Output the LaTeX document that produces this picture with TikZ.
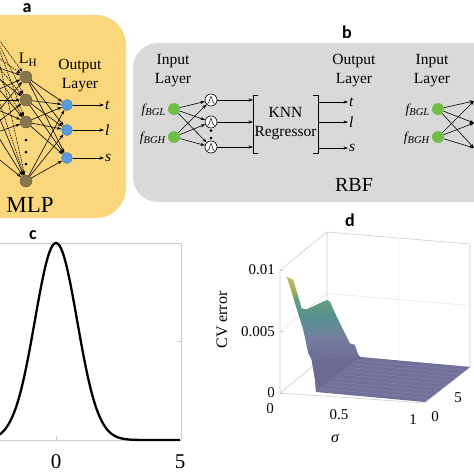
\documentclass[tikz,border=0pt]{standalone}
\usepackage{fontspec}
\setmainfont{Liberation Serif}
\newfontfamily\labfont{Carlito}
\usetikzlibrary{arrows.meta,calc}
\definecolor{yellowbg}{RGB}{250,215,125}
\definecolor{graybg}{RGB}{217,217,217}
\definecolor{brownnode}{RGB}{135,118,78}
\definecolor{bluenode}{RGB}{85,155,225}
\definecolor{greennode}{RGB}{112,190,70}
\definecolor{axgray}{RGB}{205,205,205}
\definecolor{slate}{RGB}{112,112,155}
\definecolor{stripe}{RGB}{138,138,175}
\definecolor{greyblue}{RGB}{118,125,160}
\definecolor{tealc}{RGB}{85,145,140}
\definecolor{tealg}{RGB}{100,160,125}
\definecolor{olivec}{RGB}{165,170,90}
\definecolor{yellowc}{RGB}{200,190,95}
\pgfdeclareverticalshading{wallshade}{100bp}{color(0bp)=(slate); color(41bp)=(slate); color(48bp)=(greyblue); color(58bp)=(tealc); color(65bp)=(tealg); color(69bp)=(olivec); color(75bp)=(yellowc); color(100bp)=(yellowc)}
\begin{document}
\begin{tikzpicture}[x=1pt,y=-1pt,
  conn/.style={-{Stealth[length=4.5pt,width=3.2pt]}, line width=0.6pt},
  dconn/.style={conn, dashed, dash pattern=on 1.5pt off 1pt},
  hid/.style={circle, fill=brownnode, draw=brownnode!70!black, line width=0.3pt, inner sep=0pt, minimum size=12pt},
  outn/.style={circle, fill=bluenode, draw=bluenode!70!black, line width=0.3pt, inner sep=0pt, minimum size=11pt},
  inn/.style={circle, fill=greennode, inner sep=0pt, minimum size=12pt},
  rbfn/.style={circle, fill=white, draw=black, line width=0.6pt, inner sep=0pt, minimum size=12pt},
  txt/.style={font=\fontsize{15.5}{19}\selectfont, align=center, inner sep=0pt},
  outlab/.style={font=\fontsize{15.5}{15.5}\selectfont\itshape, inner sep=1pt, anchor=west},
  flab/.style={font=\fontsize{13.5}{13.5}\selectfont\itshape, inner sep=0pt, anchor=east},
  panel/.style={font=\labfont\bfseries\fontsize{18}{18}\selectfont, inner sep=0pt, anchor=base},
  tick/.style={font=\fontsize{15}{15}\selectfont, inner sep=0pt},
  dotn/.style={circle, fill=black, inner sep=0pt, minimum size=3pt}]
\useasboundingbox (0,0) rectangle (474,474);
\clip (0,0) rectangle (474,474);
\fill[white] (0,0) rectangle (474,474);

% ---------- backgrounds ----------
\fill[yellowbg, rounded corners=30pt] (-40,15) rectangle (126,218);
\fill[graybg, rounded corners=25pt] (133,43) rectangle (540,202);

\node[panel] (pa) at (27,12) {a};
\node[panel] (pb) at (347,38) {b};
\node[panel] (pc) at (33,239) {c};
\node[panel] (pd) at (350,226) {d};

% ---------- panel a : MLP ----------
\node[hid] (h1) at (26,77) {};
\node[hid] (h2) at (26,100) {};
\node[hid] (h3) at (26,122) {};
\node[hid] (h4) at (26,181) {};
\node[dotn] (hd1) at (26,140) {};
\node[dotn] (hd2) at (26,152) {};
\node[dotn] (hd3) at (26,164) {};
\node[font=\fontsize{16}{16}\selectfont, inner sep=0pt] (lh) at (28,60) {L\textsubscript{H}};
\node[outn] (o1) at (67,105) {};
\node[outn] (o2) at (67,130) {};
\node[outn] (o3) at (67,158) {};
\node[txt] (olay1) at (80,76) {Output\\Layer};
\node[outlab] (t1) at (104,105) {t};
\node[outlab] (l1) at (104,130) {l};
\node[outlab] (s1) at (104,158) {s};
\node[font=\fontsize{23}{23}\selectfont, inner sep=0pt] (mlp) at (30,205) {MLP};

\coordinate (i1) at (-25,60);
\coordinate (i2) at (-25,100);
\coordinate (i3) at (-25,140);
\coordinate (d1) at (-8,30);
\coordinate (d2) at (-20,45);
\foreach \i in {i1,i2,i3}
  \foreach \h in {h1,h2,h3,h4}
    \draw[conn] (\i) -- (\h);
\foreach \d in {d1,d2}
  \foreach \h in {h1,h2,h3,h4}
    \draw[dconn] (\d) -- (\h);
\foreach \h in {h1,h2,h3,h4}
  \foreach \o in {o1,o2,o3}
    \draw[conn] (\h) -- (\o);
\draw[conn] (o1) -- (t1.west);
\draw[conn] (o2) -- (l1.west);
\draw[conn] (o3) -- (s1.west);

% ---------- panel b : RBF ----------
\node[txt] (ilay1) at (173,71) {Input\\Layer};
\node[inn] (g1) at (174,109) {};
\node[inn] (g2) at (174,137) {};
\node[flab] (fl1) at (166,110) {f\textsubscript{\fontsize{10.5}{10.5}\selectfont BGL}};
\node[flab] (fh1) at (166,138) {f\textsubscript{\fontsize{10.5}{10.5}\selectfont BGH}};
\node[rbfn] (r1) at (211,100) {};
\node[rbfn] (r2) at (211,122) {};
\node[rbfn] (r3) at (211,147) {};
\node[dotn] (rd1) at (211,130.5) {};
\node[dotn] (rd2) at (211,138) {};
\foreach \r in {r1,r2,r3}
  \draw[line width=0.5pt, shift={(\r.center)}] plot[domain=-3.8:3.8, samples=17, smooth] (\x,{3.2-6.8*exp(-\x*\x/2.2)});
\foreach \g in {g1,g2}
  \foreach \r in {r1,r2,r3}
    \draw[conn] (\g) -- (\r);
\coordinate (kl) at (253,95);
\coordinate (kr) at (318,95);
\draw[line width=0.9pt] (258,95) -- (253,95) -- (253,153) -- (258,153);
\draw[line width=0.9pt] (313,95) -- (318,95) -- (318,153) -- (313,153);
\node[txt] (knn) at (285.5,124) {KNN\\Regressor};
\draw[conn] (r1.east) -- (r1 -| kl);
\draw[conn] (r2.east) -- (r2 -| kl);
\draw[conn] (r3.east) -- (r3 -| kl);
\node[outlab] (t2) at (348,102) {t};
\node[outlab] (l2) at (348,122) {l};
\node[outlab] (s2) at (348,148) {s};
\draw[conn] (kr |- t2) -- (t2.west);
\draw[conn] (kr |- l2) -- (l2.west);
\draw[conn] (kr |- s2) -- (s2.west);
\node[txt] (olay2) at (354,71) {Output\\Layer};
\node[font=\fontsize{20}{20}\selectfont, inner sep=0pt] (rbf) at (354,185) {RBF};

\node[txt] (ilay2) at (432,71) {Input\\Layer};
\node[inn] (g3) at (438,109) {};
\node[inn] (g4) at (438,137) {};
\node[flab] (fl2) at (430,110) {f\textsubscript{\fontsize{10.5}{10.5}\selectfont BGL}};
\node[flab] (fh2) at (430,138) {f\textsubscript{\fontsize{10.5}{10.5}\selectfont BGH}};
\coordinate (q1) at (474,101);
\coordinate (q2) at (474,123);
\coordinate (q3) at (474,148);
\foreach \g in {g3,g4}
  \foreach \q in {q1,q2,q3}
    \draw[conn] (\g) -- (\q);

% ---------- panel c ----------
\draw[axgray, line width=0.6pt] (-5,243) rectangle (181,440);
\draw[axgray, line width=0.6pt] (56,440) -- (56,436) (56,243) -- (56,247) (181,341) -- (177,341);
\draw[line width=2.3pt, line join=round] plot[domain=-2.4:5, samples=120, smooth] ({56+24.8*\x},{440-197*exp(-\x*\x/1.45)});
\node[font=\fontsize{21}{21}\selectfont, inner sep=0pt] (c0) at (56,462) {0};
\node[font=\fontsize{21}{21}\selectfont, inner sep=0pt] (c5) at (180,462) {5};

% ---------- panel d ----------
\coordinate (A) at (280,270);
\coordinate (A0) at (280,393);
\coordinate (B) at (327,232);
\coordinate (B0) at (327,355);
\coordinate (C) at (470,244);
\coordinate (C0) at (470,367);
\coordinate (D0) at (425,403);
\draw[axgray!70, line width=0.4pt] ($(B)!0.5!(C)$) -- ($(B0)!0.5!(C0)$)
  ($(A)!0.5!(A0)$) -- ($(B)!0.5!(B0)$) -- ($(C)!0.5!(C0)$)
  ($(A0)!0.5!(D0)$) -- ($(B0)!0.5!(C0)$);
\draw[axgray, line width=0.6pt] (A0) -- (A) -- (B) -- (C) -- (C0)
  (B) -- (B0) -- (C0) (A0) -- (B0) (A0) -- (D0) -- (C0);
\draw[axgray, line width=0.6pt] (A) -- ++(4,0) ($(A)!0.5!(A0)$) -- ++(4,0) (A0) -- ++(4,0);

% flat part of the surface
\fill[slate] (316,392) -- (425,402) -- (470,367) -- (361,357) -- cycle;
\foreach \k in {1,...,9}
  \draw[stripe, line width=0.35pt] ($(316,392)!\k/10!(361,357)$) -- ($(425,402)!\k/10!(470,367)$);
% raised wall of the surface
\shade[shading=wallshade] (286.7,276.7) -- (293.3,280) -- (301.7,308.3) -- (306.7,309.3)
  -- (326.7,300) -- (330,301.7) -- (336.7,316.7) -- (343.3,330) -- (350,343.3)
  -- (355,345) -- (358.3,355) -- (361,357) -- (316,392) -- (315,380) -- (311.7,360)
  -- (308.3,353.3) -- (303.3,330) -- (295,303.3) -- (290,286.7) -- cycle;
\fill[slate!85!black, opacity=0.35] (311.7,360) -- (361,357) -- (316,392) -- (315,380) -- cycle;

\node[tick, anchor=east] (z1) at (275,270) {0.01};
\node[tick, anchor=east] (z2) at (275,332) {0.005};
\node[tick, anchor=east] (z3) at (275,393) {0};
\node[tick] (x0) at (270,409) {0};
\node[tick] (x1) at (339,415) {0.5};
\node[tick] (x2) at (413,420) {1};
\node[tick] (y0) at (435,417) {0};
\node[tick] (y5) at (458,398) {5};
\node[tick, font=\fontsize{16}{16}\selectfont\itshape] (sig) at (335,438) {σ};
\node[tick, font=\fontsize{16}{16}\selectfont, rotate=90] (cv) at (222,320) {CV error};
\end{tikzpicture}
\end{document}
